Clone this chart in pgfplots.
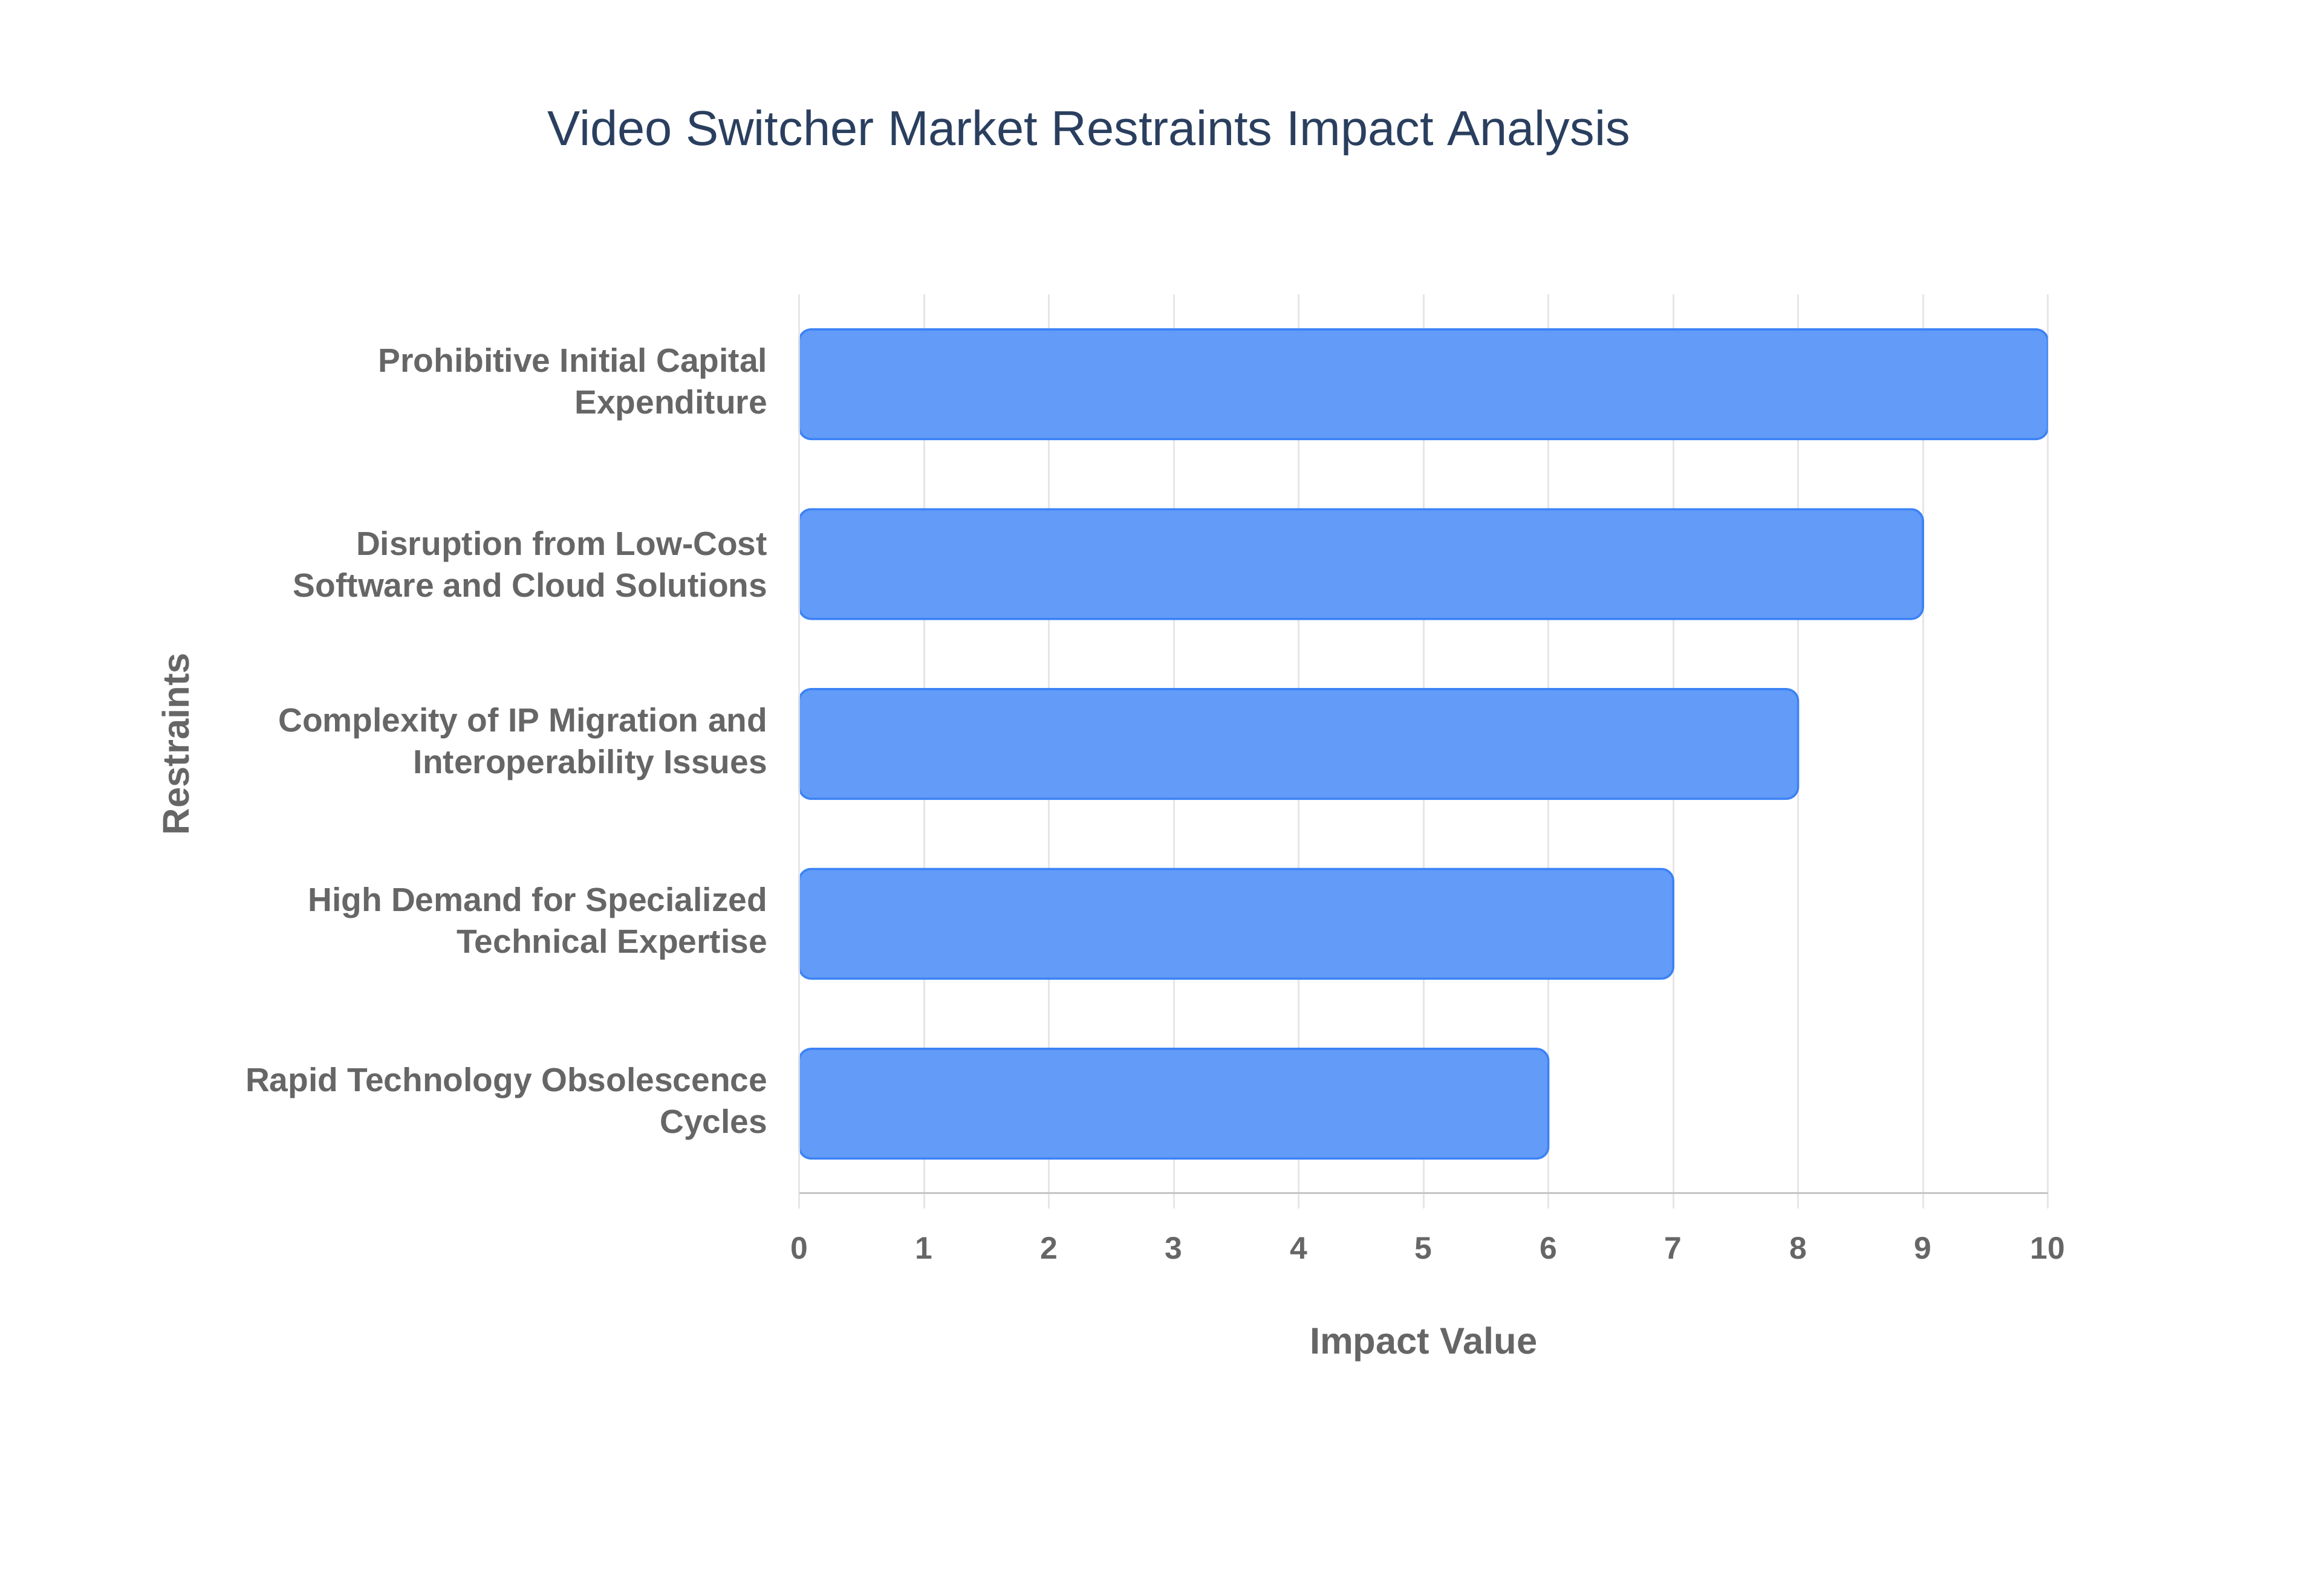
\documentclass[border=0pt]{standalone}
\usepackage{fontspec}
\setmainfont{Liberation Sans}
\usepackage{pgfplots}
\pgfplotsset{compat=1.18}
\definecolor{barfill}{HTML}{629BF8}
\definecolor{barline}{HTML}{3B82F6}
\definecolor{gridc}{HTML}{E6E6E6}
\definecolor{labc}{HTML}{666666}
\definecolor{titlec}{HTML}{2A3F5F}
\begin{document}
\begin{tikzpicture}
\begin{axis}[
    scale only axis,
    width=419.5pt, height=302.2pt,
    xbar,
    bar width=0.61,
    xmin=0, xmax=10,
    ymin=-0.5, ymax=4.5,
    xtick={0,1,...,10},
    ytick={0,1,2,3,4},
    yticklabels={
      {Rapid Technology Obsolescence\\Cycles},
      {High Demand for Specialized\\Technical Expertise},
      {Complexity of IP Migration and\\Interoperability Issues},
      {Disruption from Low-Cost\\Software and Cloud Solutions},
      {Prohibitive Initial Capital\\Expenditure}},
    axis line style={draw=none},
    xmajorgrids,
    grid style={gridc, line width=0.6pt},
    major tick length=5pt,
    xtick style={gridc, line width=0.6pt},
    xtick pos=bottom,
    tick align=outside,
    ytick style={draw=none},
    xticklabel style={anchor=base, yshift=-17pt, font=\fontsize{10.5}{12}\selectfont\bfseries, text=labc},
    yticklabel style={anchor=east, inner sep=0pt, xshift=-5.5pt, align=right,
      font=\fontsize{11.2}{14}\selectfont\bfseries, text=labc},
    /pgf/number format/assume math mode=true,
]
\addplot[fill=barfill, draw=barline, line width=0.7pt, rounded corners=4pt]
  coordinates {(6,0) (7,1) (8,2) (9,3) (10,4)};
\draw[gridc, line width=0.6pt] (axis cs:0,-0.5) -- (axis cs:0,4.5);
\draw[gridc!85!black, line width=0.9pt] (axis cs:0,-0.5) -- (axis cs:10,-0.5);
\end{axis}
\node[anchor=base, text=titlec, font=\fontsize{16.5}{20}\selectfont]
  at ([xshift=97.3pt, yshift=50pt]current axis.north west)
  {Video Switcher Market Restraints Impact Analysis};
\node[anchor=base, text=labc, font=\fontsize{12.5}{15}\selectfont\bfseries]
  at ([yshift=-53.8pt]current axis.south) {Impact Value};
\node[anchor=base, rotate=90, text=labc, font=\fontsize{12.5}{15}\selectfont\bfseries]
  at ([xshift=-205pt]current axis.west) {Restraints};
\pgfresetboundingbox
\path[use as bounding box] ([xshift=-268.5pt, yshift=-135.2pt]current axis.south west)
  rectangle ([xshift=92.1pt, yshift=98.9pt]current axis.north east);
\end{tikzpicture}
\end{document}
